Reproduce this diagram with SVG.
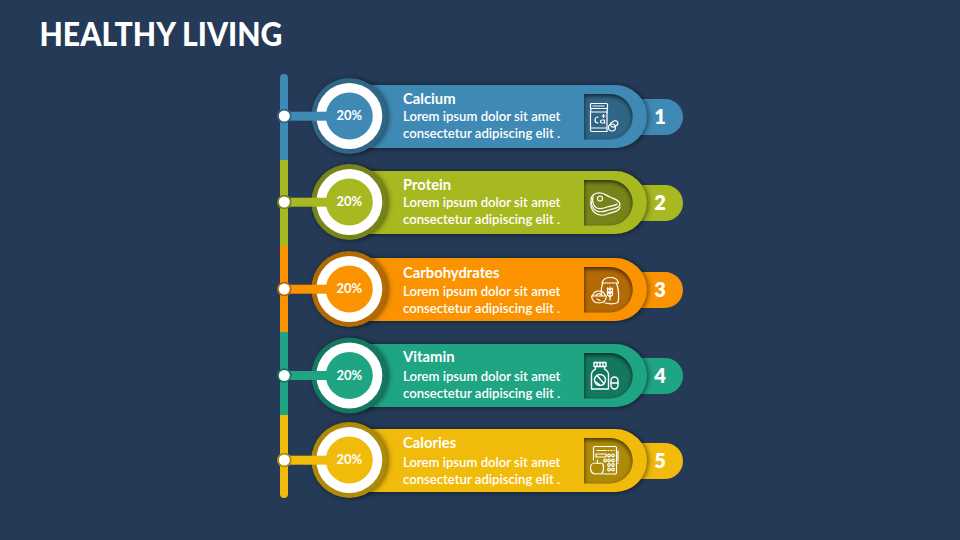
<svg xmlns="http://www.w3.org/2000/svg" width="960" height="540" viewBox="0 0 960 540">
<style>
text{font-family:Lato,"Open Sans","Liberation Sans",sans-serif;fill:#fff}
.title{font-size:33px;font-weight:900}
.h{font-size:14.800px;font-weight:700}
.b{font-size:13.150px;font-weight:600}
.pct{font-size:13px;font-weight:700;text-anchor:middle}
.num{font-size:20px;font-weight:800;text-anchor:middle}
.ic{fill:none;stroke:#fff;stroke-width:1.200;stroke-linejoin:round;stroke-linecap:round}
.c1{fill:#3f8ab5}.d1{fill:#2f6585}
.c2{fill:#a8b820}.d2{fill:#76841a}
.c3{fill:#fb9300}.d3{fill:#b36a05}
.c4{fill:#1fa584}.d4{fill:#14775f}
.c5{fill:#f1bb0b}.d5{fill:#ad8a08}
.dot{fill:#fff}
</style>
<defs>
<filter id="sh" x="-20%" y="-30%" width="140%" height="160%" color-interpolation-filters="sRGB"><feDropShadow dx="1.500" dy="0.500" stdDeviation="2.500" flood-color="#000" flood-opacity="0.5"/></filter>
<filter id="in" x="-10%" y="-10%" width="120%" height="120%" color-interpolation-filters="sRGB"><feGaussianBlur in="SourceAlpha" stdDeviation="2" result="b"/><feOffset in="b" dx="0" dy="2" result="b2"/><feComposite in="SourceAlpha" in2="b2" operator="out" result="i"/><feFlood flood-color="#000" flood-opacity="0.65"/><feComposite in2="i" operator="in" result="s"/><feMerge><feMergeNode in="SourceGraphic"/><feMergeNode in="s"/></feMerge></filter>
</defs>
<rect width="960" height="540" fill="#243a56"/>
<text class="title" x="39.500" y="45.500" textLength="243" lengthAdjust="spacingAndGlyphs">HEALTHY LIVING</text>

<g id="connectors">
<path class="c1" d="M280 160V78a4 4 0 0 1 8 0V160Z"/>
<rect class="c2" x="280" y="160" width="8" height="86"/>
<rect class="c3" x="280" y="246" width="8" height="86"/>
<rect class="c4" x="280" y="332" width="8" height="83"/>
<path class="c5" d="M280 415H288V494a4 4 0 0 1-8 0Z"/>
</g>

<g id="node1">
<path class="c1" d="M630 99h35a18 18 0 0 1 0 36H630Z"/>
<path class="c1" filter="url(#sh)" d="M349 85H615.500a31.500 31.500 0 0 1 0 63H349Z"/>
<path class="d1" filter="url(#in)" d="M584 94h26a22.700 22.700 0 0 1 0 45.400H584Z"/>
<circle class="d1" filter="url(#sh)" cx="349.300" cy="116" r="38"/>
<circle cx="349.300" cy="116" r="33" fill="#fff"/>
<rect class="c1" x="284" y="111.700" width="46" height="9"/>
<circle class="c1" cx="349.300" cy="116" r="23.500"/>
<circle class="d1" cx="284.300" cy="116" r="7.300"/><circle class="dot" cx="284.300" cy="116" r="5.500"/>
<text class="pct" x="349.300" y="120.400">20%</text>
<text class="h" x="403" y="103.500">Calcium</text>
<text class="b" x="403" y="120.500">Lorem ipsum dolor sit amet</text>
<text class="b" x="403" y="137.500">consectetur adipiscing elit .</text>
<text class="num" x="660" y="124">1</text>
<g class="ic" transform="translate(590,103)">
<rect x="0.500" y="0.500" width="17" height="5" rx="1"/><path d="M3 3h12" stroke-dasharray="1 1"/>
<path d="M1 5.500 0.500 9V27a1.500 1.500 0 0 0 1.500 1.500H17V9L17.500 5.500M0.500 9H17.500M0.500 25H17"/>
<path d="M8 14a3 3 0 1 0 0 6M15 20h-3a1.500 1.500 0 0 1 0-3h2.500v3M12 13h3M13.500 11.500v3"/>
<circle cx="22" cy="24.500" r="3.500"/><rect x="20.500" y="18.500" width="7.500" height="5" rx="2.500" transform="rotate(-30 24 21)"/>
</g>
</g>

<g id="node2">
<path class="c2" d="M630 185h35a18 18 0 0 1 0 36H630Z"/>
<path class="c2" filter="url(#sh)" d="M349 171H615.500a31.500 31.500 0 0 1 0 63H349Z"/>
<path class="d2" filter="url(#in)" d="M584 180h26a22.700 22.700 0 0 1 0 45.400H584Z"/>
<circle class="d2" filter="url(#sh)" cx="349.300" cy="202" r="38"/>
<circle cx="349.300" cy="202" r="33" fill="#fff"/>
<rect class="c2" x="284" y="197.700" width="46" height="9"/>
<circle class="c2" cx="349.300" cy="202" r="23.500"/>
<circle class="d2" cx="284.300" cy="202" r="7.300"/><circle class="dot" cx="284.300" cy="202" r="5.500"/>
<text class="pct" x="349.300" y="206.400">20%</text>
<text class="h" x="403" y="189.500">Protein</text>
<text class="b" x="403" y="206.500">Lorem ipsum dolor sit amet</text>
<text class="b" x="403" y="223.500">consectetur adipiscing elit .</text>
<text class="num" x="660" y="210">2</text>
<g class="ic" transform="translate(590,192)">
<path d="M1 8C1 3 6 0 11 1c4 .8 6 3 10 4.500 4 1.500 9 3 9 7 0 3.500-6 4-11 5.500-5 1.500-8 3-12 1C3 17 1 12 1 8Z"/>
<path d="M1 10c-.5 4 .5 7.500 3.500 10.500 4 3.500 8 3.500 13 1.500 5-2 11-2 12.500-6.500M3 5c-1 4 0 8 3 10.500 3 2 7 1 11-.5 3-1 8-1 10-3"/>
<circle cx="10" cy="6.500" r="2.500"/>
</g>
</g>

<g id="node3">
<path class="c3" d="M630 272h35a18 18 0 0 1 0 36H630Z"/>
<path class="c3" filter="url(#sh)" d="M349 258H615.500a31.500 31.500 0 0 1 0 63H349Z"/>
<path class="d3" filter="url(#in)" d="M584 267h26a22.700 22.700 0 0 1 0 45.400H584Z"/>
<circle class="d3" filter="url(#sh)" cx="349.300" cy="289" r="38"/>
<circle cx="349.300" cy="289" r="33" fill="#fff"/>
<rect class="c3" x="284" y="284.700" width="46" height="9"/>
<circle class="c3" cx="349.300" cy="289" r="23.500"/>
<circle class="d3" cx="284.300" cy="289" r="7.300"/><circle class="dot" cx="284.300" cy="289" r="5.500"/>
<text class="pct" x="349.300" y="293.400">20%</text>
<text class="h" x="403" y="277.500">Carbohydrates</text>
<text class="b" x="403" y="295.500">Lorem ipsum dolor sit amet</text>
<text class="b" x="403" y="312.500">consectetur adipiscing elit .</text>
<text class="num" x="660" y="297">3</text>
<g class="ic" transform="translate(591,277)">
<path d="M11 6C12 2 16 .5 19.500 .5c4 0 7 1.500 8 5.500H11ZM12 6c-1.500 3-2 8-1.500 12M25.500 6C27.500 12 28 20 27 25.500c-3 1.200-9 1.500-13 .5"/>
<path d="M19 10v13M19 13l-2.500-2v3l2.500 2 2.500-2v-3ZM19 17l-2.500-2v3l2.500 2 2.500-2v-3Z"/>
<path d="M0.500 19h15c-.5 4.500-3 7-7.500 7s-7-2.500-7.500-7ZM1.500 19c1-3.500 3.500-5 6.500-5s5.500 1.500 6.500 5M5 18l3-1.500 3 1.500M6 22l3 1.500"/>
</g>
</g>

<g id="node4">
<path class="c4" d="M630 358h35a18 18 0 0 1 0 36H630Z"/>
<path class="c4" filter="url(#sh)" d="M349 344H615.500a31.500 31.500 0 0 1 0 63H349Z"/>
<path class="d4" filter="url(#in)" d="M584 353h26a22.700 22.700 0 0 1 0 45.400H584Z"/>
<circle class="d4" filter="url(#sh)" cx="349.300" cy="375.500" r="38"/>
<circle cx="349.300" cy="375.500" r="33" fill="#fff"/>
<rect class="c4" x="284" y="371" width="46" height="9"/>
<circle class="c4" cx="349.300" cy="375.500" r="23.500"/>
<circle class="d4" cx="284.300" cy="375.500" r="7.300"/><circle class="dot" cx="284.300" cy="375.500" r="5.500"/>
<text class="pct" x="349.300" y="380.400">20%</text>
<text class="h" x="403" y="361.500">Vitamin</text>
<text class="b" x="403" y="380.500">Lorem ipsum dolor sit amet</text>
<text class="b" x="403" y="397.500">consectetur adipiscing elit .</text>
<text class="num" x="660" y="383">4</text>
<g class="ic" transform="translate(591,362)" style="stroke-width:1.400">
<rect x="3" y="0.500" width="12" height="4"/><path d="M6 .5v4M9 .5v4M12 .5v4M4.500 4.500v2.500C2 8.500 .5 10 .5 12.500V27H17.500V12.500c0-2.500-1.500-4-4-5.500V4.500"/>
<circle cx="9" cy="18" r="5.500"/><path d="M6 13.500l7 8M5 20l4 3"/>
<rect x="20" y="15" width="7" height="12" rx="3.500"/><path d="M20 21h7"/>
</g>
</g>

<g id="node5">
<path class="c5" d="M630 443h35a18 18 0 0 1 0 36H630Z"/>
<path class="c5" filter="url(#sh)" d="M349 429H615.500a31.500 31.500 0 0 1 0 63H349Z"/>
<path class="d5" filter="url(#in)" d="M584 438h26a22.700 22.700 0 0 1 0 45.400H584Z"/>
<circle class="d5" filter="url(#sh)" cx="349.300" cy="460" r="38"/>
<circle cx="349.300" cy="460" r="33" fill="#fff"/>
<rect class="c5" x="284" y="455.700" width="46" height="9"/>
<circle class="c5" cx="349.300" cy="460" r="23.500"/>
<circle class="d5" cx="284.300" cy="460" r="7.300"/><circle class="dot" cx="284.300" cy="460" r="5.500"/>
<text class="pct" x="349.300" y="464.400">20%</text>
<text class="h" x="403" y="447.500">Calories</text>
<text class="b" x="403" y="466.500">Lorem ipsum dolor sit amet</text>
<text class="b" x="403" y="483.500">consectetur adipiscing elit .</text>
<text class="num" x="660" y="468">5</text>
<g class="ic" transform="translate(590,446)">
<path d="M3.500 14V2a1.500 1.500 0 0 1 1.500-1.500H25a1.500 1.500 0 0 1 1.500 1.500V26.500a1.500 1.500 0 0 1-1.500 1.500H13"/>
<path d="M7 4.500h9M18 4.500h1M21 4.500h1M24 4.500h.3M6 8h10v3H6Z"/>
<circle cx="19" cy="9.500" r="1.300"/><circle cx="23" cy="9.500" r="1.300"/><circle cx="15" cy="14.500" r="1.300"/><circle cx="19" cy="14.500" r="1.300"/><circle cx="23" cy="14.500" r="1.300"/><circle cx="19" cy="19" r="1.300"/><circle cx="23" cy="19" r="1.300"/><circle cx="19" cy="23.500" r="1.300"/><circle cx="23" cy="23.500" r="1.300"/>
<path d="M28 5V15M28 17v.5M0.500 22c0-3 2-5 4.500-5 1.500 0 2 .5 3 .5s1.500-.5 3-.5c2.500 0 2.500 2 2.500 5 0 4-1.500 6-3.500 6-1 0-1.500-.5-2-.5s-1 .5-2 .5C3 28 .5 26 .5 22ZM7.500 17v-3"/>
</g>
</g>
</svg>
